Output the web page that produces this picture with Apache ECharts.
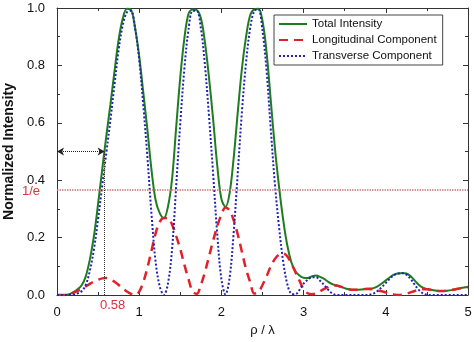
<!DOCTYPE html>
<html><head><meta charset="utf-8">
<script src="https://cdn.jsdelivr.net/npm/echarts@6/dist/echarts.min.js"></script>
<style>html,body{margin:0;padding:0;background:#fff}#c{width:474px;height:342px}</style>
</head><body><div id="c"></div>
<script>
// rho / lambda sample positions
const rho = [0,0.05,0.1,0.15,0.2,0.25,0.3,0.35,0.4,0.45,
  0.5,0.55,0.6,0.65,0.7,0.75,0.8,0.85,0.9,0.95,
  1,1.05,1.1,1.15,1.2,1.25,1.3,1.35,1.4,1.45,
  1.5,1.55,1.6,1.65,1.7,1.75,1.8,1.85,1.9,1.95,
  2,2.05,2.1,2.15,2.2,2.25,2.3,2.35,2.4,2.45,
  2.5,2.55,2.6,2.65,2.7,2.75,2.8,2.85,2.9,2.95,
  3,3.05,3.1,3.15,3.2,3.25,3.3,3.35,3.4,3.45,
  3.5,3.55,3.6,3.65,3.7,3.75,3.8,3.85,3.9,3.95,
  4,4.05,4.1,4.15,4.2,4.25,4.3,4.35,4.4,4.45,
  4.5,4.55,4.6,4.65,4.7,4.75,4.8,4.85,4.9,4.95,
  5];
const totalIntensity = [0,0,0,0.003,0.01,0.02,0.034,0.065,0.124,0.207,
  0.318,0.438,0.554,0.664,0.781,0.89,0.963,0.997,0.994,0.93,
  0.832,0.705,0.575,0.435,0.33,0.285,0.268,0.308,0.405,0.585,
  0.76,0.895,0.98,0.995,0.993,0.965,0.88,0.755,0.61,0.45,
  0.335,0.307,0.355,0.48,0.64,0.79,0.9,0.975,0.995,0.997,
  0.955,0.845,0.68,0.515,0.38,0.265,0.175,0.115,0.083,0.068,
  0.06,0.059,0.065,0.068,0.063,0.056,0.046,0.038,0.033,0.029,
  0.024,0.02,0.018,0.018,0.019,0.021,0.022,0.024,0.03,0.04,
  0.051,0.062,0.071,0.075,0.077,0.075,0.066,0.051,0.036,0.026,
  0.021,0.018,0.016,0.014,0.014,0.015,0.017,0.02,0.023,0.026,
  0.028];
const longitudinal = [0,0,0,0.002,0.008,0.014,0.021,0.03,0.039,0.047,
  0.053,0.058,0.059,0.054,0.046,0.035,0.023,0.012,0.004,0,
  0.012,0.045,0.095,0.155,0.215,0.255,0.268,0.268,0.245,0.205,
  0.16,0.105,0.055,0.012,0.004,0.035,0.08,0.135,0.19,0.24,
  0.28,0.305,0.295,0.26,0.21,0.15,0.09,0.045,0.005,0.01,
  0.035,0.065,0.1,0.125,0.14,0.145,0.135,0.11,0.08,0.05,
  0.02,0.006,0.003,0.006,0.013,0.021,0.028,0.033,0.033,0.029,
  0.024,0.02,0.018,0.018,0.019,0.021,0.021,0.019,0.016,0.013,
  0.009,0.005,0.002,0,0.001,0.004,0.009,0.014,0.018,0.02,
  0.02,0.018,0.016,0.014,0.014,0.015,0.017,0.02,0.023,0.026,
  0.028];
const transverse = [0,0,0,0.001,0.002,0.006,0.013,0.035,0.085,0.16,
  0.265,0.38,0.495,0.61,0.735,0.855,0.94,0.985,0.99,0.93,
  0.82,0.66,0.48,0.28,0.115,0.03,0,0.04,0.16,0.38,
  0.6,0.79,0.925,0.99,0.99,0.93,0.8,0.62,0.42,0.21,
  0.055,0.002,0.06,0.22,0.43,0.64,0.81,0.93,0.99,0.995,
  0.92,0.78,0.58,0.39,0.24,0.12,0.04,0.005,0.003,0.018,
  0.04,0.053,0.062,0.062,0.05,0.035,0.018,0.005,0,0,
  0,0,0,0,0,0,0.001,0.005,0.014,0.027,
  0.042,0.057,0.069,0.075,0.076,0.071,0.057,0.037,0.018,0.006,
  0.001,0,0,0,0,0,0,0,0,0,
  0];
const seriesNames = ['Total Intensity','Longitudinal Component','Transverse Component'];
const xRange = [0, 5];
const yRange = [0, 1];
const fwhmRadius = 0.58;
const halfLevel = 0.5;
const invE = 0.3679;
const invELabel = '1/e';
const fwhmLabel = '0.58';

const FONT = '"Liberation Sans", Arial, sans-serif';
const pairs = arr => rho.map((x, i) => [x, arr[i]]);

const chart = echarts.init(document.getElementById('c'), null, {renderer: 'canvas'});
const axisCommon = {
  axisLine: {show: true, onZero: false, lineStyle: {color: '#333', width: 1}},
  axisTick: {show: true, inside: true, length: 5, lineStyle: {color: '#333'}},
  minorTick: {show: true, splitNumber: 2, length: 3, lineStyle: {color: '#333'}},
  splitLine: {show: false}
};
chart.setOption({
  animation: false,
  backgroundColor: '#fff',
  grid: {left: 57, right: 6, top: 8, bottom: 47, containLabel: false, outerBoundsMode: 'none'},
  legend: {
    data: seriesNames, orient: 'vertical', left: 274, top: 15,
    itemWidth: 28, itemHeight: 10, itemGap: 4,
    padding: [3, 6, 3, 4], borderColor: '#444', borderWidth: 1, backgroundColor: '#fff',
    itemStyle: {opacity: 0},
    textStyle: {fontSize: 11.5, fontFamily: FONT, color: '#111'}
  },
  xAxis: [
    Object.assign({type: 'value', min: xRange[0], max: xRange[1], interval: 1, position: 'bottom',
      name: 'ρ / λ', nameLocation: 'middle', nameGap: 29,
      nameTextStyle: {fontSize: 13, fontFamily: FONT, color: '#111'},
      axisLabel: {fontSize: 13, fontFamily: FONT, color: '#111', margin: 11}}, axisCommon),
    Object.assign({type: 'value', min: xRange[0], max: xRange[1], interval: 1, position: 'top',
      axisLabel: {show: false}}, axisCommon)
  ],
  yAxis: [
    Object.assign({type: 'value', min: yRange[0], max: yRange[1], interval: 0.2, position: 'left',
      name: 'Normalized Intensity', nameLocation: 'middle', nameGap: 34,
      nameTextStyle: {fontSize: 14, fontWeight: 'bold', fontFamily: FONT, color: '#111'},
      axisLabel: {fontSize: 13, fontFamily: FONT, color: '#111', margin: 12,
        formatter: v => v.toFixed(1)}}, axisCommon),
    Object.assign({type: 'value', min: yRange[0], max: yRange[1], interval: 0.2, position: 'right',
      axisLabel: {show: false}}, axisCommon)
  ],
  series: [
    {name: seriesNames[0], type: 'line', data: pairs(totalIntensity), showSymbol: false, symbol: 'none',
      smooth: 0.35, color: '#1e7d1e', lineStyle: {width: 2, color: '#1e7d1e'}, z: 2,
      markLine: {silent: true, symbol: ['none', 'none'], animation: false,
        label: {show: false},
        data: [
          [{coord: [xRange[0], invE], lineStyle: {color: '#c77a7a', width: 1.6, type: [1.5, 1]}},
           {coord: [xRange[1], invE]}],
          [{coord: [fwhmRadius, 0], lineStyle: {color: '#333', width: 1, type: [1, 1]}},
           {coord: [fwhmRadius, halfLevel]}]
        ]}},
    {name: seriesNames[1], type: 'line', data: pairs(longitudinal), showSymbol: false, symbol: 'none',
      smooth: 0.35, color: '#e3202a', lineStyle: {width: 2.5, color: '#e3202a', type: [9, 6]}, z: 3,
      markLine: {silent: true, symbol: ['arrow', 'arrow'], symbolSize: [6, 7], animation: false,
        label: {show: false},
        data: [[{coord: [xRange[0], halfLevel], lineStyle: {color: '#222', width: 1, type: [1, 1]}},
                {coord: [fwhmRadius, halfLevel]}]]}},
    {name: seriesNames[2], type: 'line', data: pairs(transverse), showSymbol: false, symbol: 'none',
      smooth: 0.35, color: '#2222b0', lineStyle: {width: 2, color: '#2222b0', type: [2, 2]}, z: 4}
  ]
});

const pInvE = chart.convertToPixel({xAxisIndex: 0, yAxisIndex: 0}, [xRange[0], invE]);
const pFwhm = chart.convertToPixel({xAxisIndex: 0, yAxisIndex: 0}, [fwhmRadius, yRange[0]]);
chart.setOption({
  graphic: [
    {type: 'text', x: pInvE[0] - 17, y: pInvE[1] + 2,
      style: {text: invELabel, fill: '#d8343c', font: '13px ' + FONT, align: 'right', verticalAlign: 'middle'}},
    {type: 'text', x: pFwhm[0] + 8, y: pFwhm[1] + 10,
      style: {text: fwhmLabel, fill: '#d8343c', font: '13px ' + FONT, align: 'center', verticalAlign: 'middle'}}
  ]
});
</script>
</body></html>
